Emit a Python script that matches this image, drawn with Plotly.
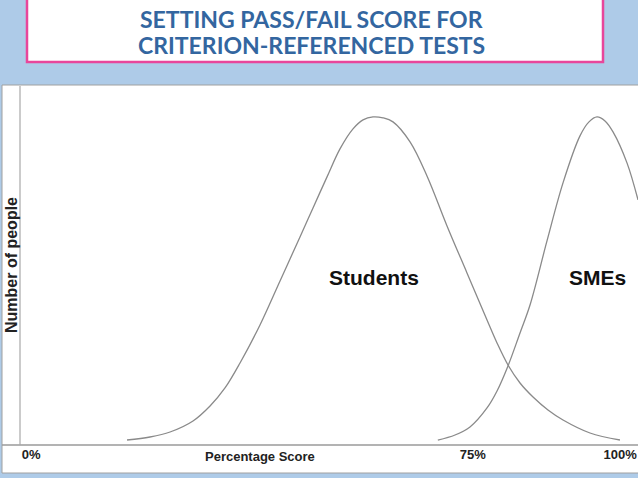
import plotly.graph_objects as go

# curves (x = percentage score, y = relative number of people)
students_x = [16.29, 20.19, 23.59, 27.49, 30.38, 32.92, 35.47, 38.86, 42.26, 45.65, 47.86,
              50.24, 52.44, 54.65, 56.35, 58.05, 59.74, 61.44, 64.33, 67.21, 70.61, 74.00,
              77.40, 79.10, 80.96, 83.00, 85.21, 87.75, 90.30, 94.88, 99.97]
students_y = [1.52, 2.44, 3.96, 7.32, 11.89, 17.38, 25.0, 36.59, 50.0, 63.41, 72.26,
              81.71, 90.24, 96.34, 99.09, 100.0, 99.70, 98.48, 92.38, 82.01, 66.77, 52.44,
              38.11, 31.10, 24.39, 18.90, 14.63, 10.67, 7.62, 3.66, 1.52]
smes_x = [69.05, 71.97, 74.51, 77.40, 79.10, 80.96, 83.00, 84.70, 87.58, 90.30, 93.18,
          94.71, 96.07, 97.43, 98.79, 101.16, 103.03]
smes_y = [1.52, 3.05, 5.49, 11.28, 16.46, 24.09, 34.15, 42.68, 62.20, 79.88, 94.21,
          98.48, 100.0, 98.78, 95.43, 85.98, 74.70]

tick_vals = [0, 75, 100]
tick_text = ["0%", "75%", "100%"]
group_names = ["Students", "SMEs"]

W, H = 638, 478
sans = "Liberation Sans, Arial"
line_col = "#8a8a8a"

def px(x):
    return x / W

def py(y):
    return 1 - y / H

fig = go.Figure()
fig.add_trace(go.Scatter(x=students_x, y=students_y, mode="lines", name=group_names[0],
                         line=dict(color=line_col, width=1.3, shape="spline", smoothing=1)))
fig.add_trace(go.Scatter(x=smes_x, y=smes_y, mode="lines", name=group_names[1],
                         line=dict(color=line_col, width=1.3, shape="spline", smoothing=1)))

# slide pieces: chart frame, title box, axis line under the label column
fig.add_shape(type="rect", xref="paper", yref="paper", x0=px(2), x1=px(642), y0=py(473), y1=py(85),
              fillcolor="white", line=dict(color="#a0a0a0", width=1), layer="below")
fig.add_shape(type="rect", xref="paper", yref="paper", x0=px(27), x1=px(603), y0=py(62), y1=py(-4),
              fillcolor="white", line=dict(color="#e8469b", width=2.5), layer="below")
fig.add_shape(type="line", xref="paper", yref="paper", x0=px(2), x1=px(642), y0=py(445), y1=py(445),
              line=dict(color="#9a9a9a", width=1.5))
fig.add_shape(type="line", xref="paper", yref="paper", x0=px(20), x1=px(20), y0=py(445), y1=py(86),
              line=dict(color="#a8a8a8", width=1.2))

title_font = dict(family="Lato, Open Sans", size=23, color="#3366a0", weight="bold")
fig.add_annotation(text="SETTING PASS/FAIL SCORE FOR", xref="paper", yref="paper", x=px(311), y=py(19),
                   xanchor="center", yanchor="middle", showarrow=False, font=title_font)
fig.add_annotation(text="CRITERION-REFERENCED TESTS", xref="paper", yref="paper", x=px(311), y=py(45),
                   xanchor="center", yanchor="middle", showarrow=False, font=title_font)

fig.add_annotation(text="Number of people", xref="paper", yref="paper", x=px(11), y=py(265), textangle=-90,
                   xanchor="center", yanchor="middle", showarrow=False,
                   font=dict(family=sans, size=16, color="#222", weight="bold"))
fig.add_annotation(text="Percentage Score", xref="paper", yref="paper", x=px(260), y=py(456),
                   xanchor="center", yanchor="middle", showarrow=False,
                   font=dict(family=sans, size=13, color="#222", weight="bold"))

fig.add_annotation(text=group_names[0], x=58.2, y=51.2, xanchor="center", yanchor="middle", showarrow=False,
                   font=dict(family=sans, size=21, color="#111", weight="bold"))
fig.add_annotation(text=group_names[1], x=96.2, y=51.2, xanchor="center", yanchor="middle", showarrow=False,
                   font=dict(family=sans, size=21, color="#111", weight="bold"))

fig.update_layout(
    width=W, height=H,
    margin=dict(l=0, r=0, t=0, b=0),
    paper_bgcolor="#aecbe8",
    plot_bgcolor="white",
    showlegend=False,
    xaxis=dict(domain=[px(20), 1], range=[-1.88, 103.03], tickvals=tick_vals, ticktext=tick_text,
               showgrid=False, zeroline=False, showline=False, ticks="", ticklabeloverflow="allow",
               tickfont=dict(family=sans, size=13, color="#222", weight="bold")),
    yaxis=dict(domain=[py(445), py(88)], range=[0, 108.8], showgrid=False, zeroline=False,
               showline=False, showticklabels=False, ticks=""),
)

# page body has an 8px margin by default, drop it so the figure sits at the corner
fig.write_html("out.html", config={"displayModeBar": False},
               post_script="document.body.style.margin='0';")
